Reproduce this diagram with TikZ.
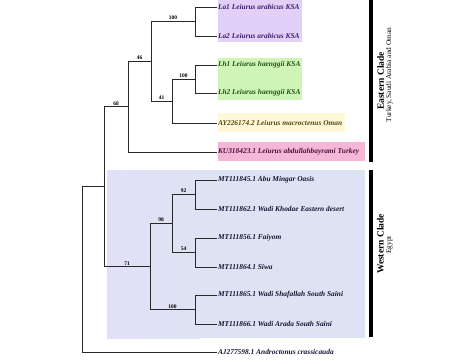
\documentclass[tikz,border=0pt]{standalone}
\usepackage{fontspec}
\setmainfont{Liberation Serif}
\definecolor{boxLa}{RGB}{227,208,249}
\definecolor{boxLh}{RGB}{207,245,182}
\definecolor{boxAY}{RGB}{255,248,215}
\definecolor{boxKU}{RGB}{245,182,216}
\definecolor{boxW}{RGB}{221,227,242}
\definecolor{boxWl}{RGB}{226,224,248}
\definecolor{txtLa}{RGB}{60,30,110}
\definecolor{txtLh}{RGB}{30,85,20}
\definecolor{txtAY}{RGB}{85,70,20}
\definecolor{txtKU}{RGB}{75,20,60}
\definecolor{txtMT}{RGB}{20,20,50}
\definecolor{branch}{RGB}{40,40,40}
\begin{document}
\begin{tikzpicture}[x=1pt,y=-1pt,
  leaf/.style={anchor=west,inner sep=0.8pt,font=\fontsize{7.4}{8}\selectfont\bfseries\itshape},
  boot/.style={above,inner sep=1pt,font=\fontsize{5.5}{6}\selectfont\bfseries},
  edge/.style={draw=branch,line width=0.9pt},
  cladebar/.style={line width=4pt,black},
  cladetitle/.style={rotate=90,font=\fontsize{9.5}{11}\selectfont\bfseries},
  cladesub/.style={rotate=90,font=\fontsize{7.3}{8}\selectfont}]
\useasboundingbox (0,0) rectangle (474,364);
% background boxes
\fill[boxLa] (218,0) rectangle (302,42);
\fill[boxLh] (218,58) rectangle (302,100);
\fill[boxAY] (218,113) rectangle (345,132);
\fill[boxKU] (218,142) rectangle (365,161);
\shade[left color=boxWl,right color=boxW] (107,170) rectangle (200,338);
\fill[boxW] (199.5,170) rectangle (365,338);
% leaves
\node[leaf,text=txtLa] (la1) at (217,7) {La1 Leiurus arabicus KSA};
\node[leaf,text=txtLa] (la2) at (217,36) {La2 Leiurus arabicus KSA};
\node[leaf,text=txtLh] (lh1) at (217,65) {Lh1 Leiurus haenggii KSA};
\node[leaf,text=txtLh] (lh2) at (217,93) {Lh2 Leiurus haenggii KSA};
\node[leaf,text=txtAY] (ay) at (217,123) {AY226174.2 Leiurus macroctenus Oman};
\node[leaf,text=txtKU] (ku) at (217,152) {KU318423.1 Leiurus abdullahbayrami Turkey};
\node[leaf,text=txtMT] (m845) at (217,180) {MT111845.1 Abu Mingar Oasis};
\node[leaf,text=txtMT] (m862) at (217,209) {MT111862.1 Wadi Khodae Eastern desert};
\node[leaf,text=txtMT] (m856) at (217,238) {MT111856.1 Faiyom};
\node[leaf,text=txtMT] (m864) at (217,267) {MT111864.1 Siwa};
\node[leaf,text=txtMT] (m865) at (217,295) {MT111865.1 Wadi Shafallah South Saini};
\node[leaf,text=txtMT] (m866) at (217,324) {MT111866.1 Wadi Arada South Saini};
\node[leaf,text=txtMT] (aj) at (217,352) {AJ277598.1 Androctonus crassicauda};
% internal nodes
\coordinate (nLa) at (195,21.5);
\coordinate (nLh) at (195,79);
\coordinate (n41) at (172,101);
\coordinate (n46) at (151,61.25);
\coordinate (n68) at (128,106.6);
\coordinate (nX) at (104,186.5);
\coordinate (n92) at (195,194.5);
\coordinate (n54) at (195,252.5);
\coordinate (nB) at (195,309.5);
\coordinate (n98) at (172,223.5);
\coordinate (n71) at (150,266.5);
\coordinate (root) at (82,269);
% branches
\path[edge] (nLa) |- (la1.west);
\path[edge] (nLa) |- (la2.west);
\path[edge] (nLh) |- (lh1.west);
\path[edge] (nLh) |- (lh2.west);
\path[edge] (n41) |- node[boot,pos=0.75] {100} (nLh);
\path[edge] (n41) |- (ay.west);
\path[edge] (n46) |- node[boot,pos=0.75] {100} (nLa);
\path[edge] (n46) |- node[boot,pos=0.75] {41} (n41);
\path[edge] (n68) |- node[boot,pos=0.75] {46} (n46);
\path[edge] (n68) |- (ku.west);
\path[edge] (nX) |- node[boot,pos=0.75] {68} (n68);
\path[edge] (n92) |- (m845.west);
\path[edge] (n92) |- (m862.west);
\path[edge] (n54) |- (m856.west);
\path[edge] (n54) |- (m864.west);
\path[edge] (nB) |- (m865.west);
\path[edge] (nB) |- (m866.west);
\path[edge] (n98) |- node[boot,pos=0.75] {92} (n92);
\path[edge] (n98) |- node[boot,pos=0.75] {54} (n54);
\path[edge] (n71) |- node[boot,pos=0.75] {98} (n98);
\path[edge] (n71) |- node[boot,pos=0.75] {100} (nB);
\path[edge] (nX) |- node[boot,pos=0.75] {71} (n71);
\path[edge] (root) |- (nX);
\path[edge] (root) |- (aj.west);
% clade bars and labels
\coordinate (eTop) at (371,0);
\coordinate (eBot) at (371,162);
\coordinate (wTop) at (371,170);
\coordinate (wBot) at (371,337);
\draw[cladebar] (eTop) -- (eBot);
\draw[cladebar] (wTop) -- (wBot);
\node[cladetitle] (et) at (380.5,81) {Eastern Clade};
\node[cladesub] (es) at (389.5,75) {Turkey, Saudi Arabia and Oman};
\node[cladetitle] (wt) at (380.5,244) {Western Clade};
\node[cladesub] (ws) at (389.5,245) {Egypt};
\end{tikzpicture}
\end{document}
